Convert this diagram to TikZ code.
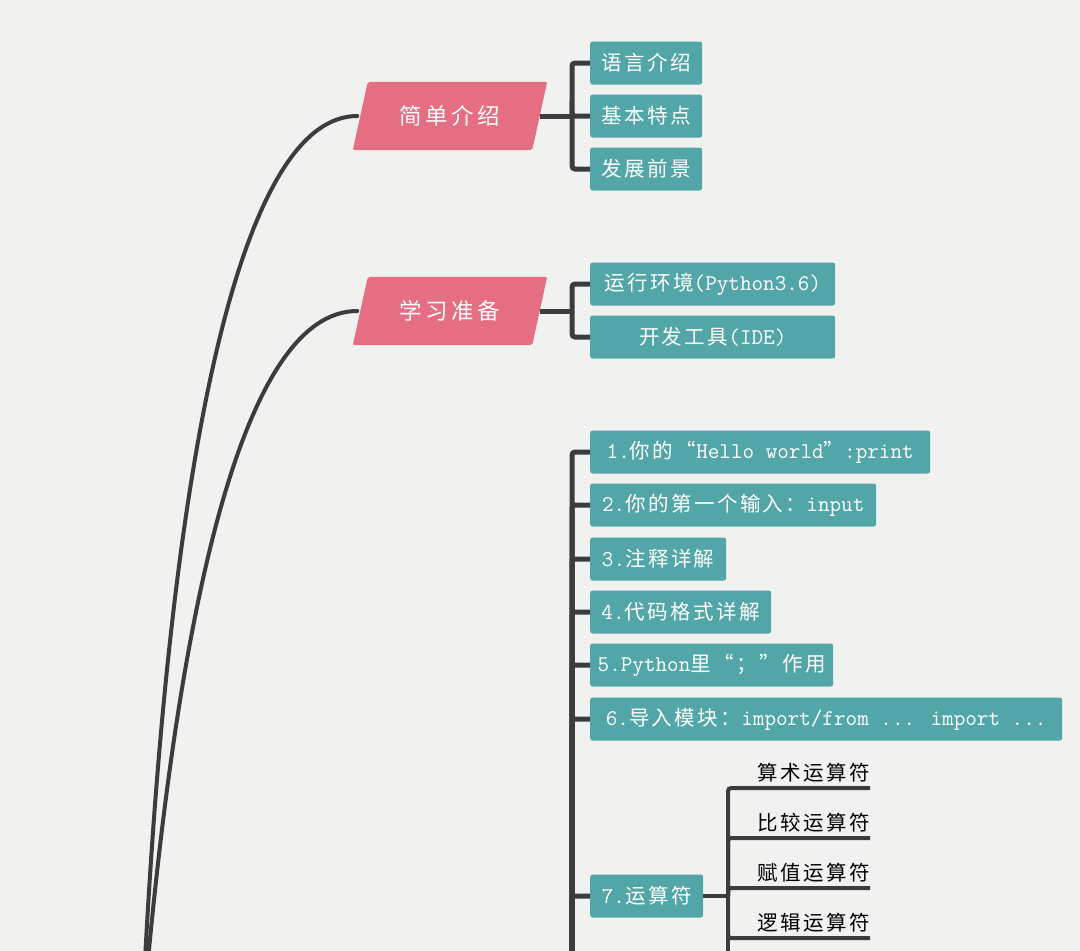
\documentclass[tikz,border=0pt]{standalone}
\usepackage{fontspec}
\setmainfont{Noto Sans CJK SC}[LetterSpace=12]
\newfontfamily\pinkfont{Noto Sans CJK SC}[LetterSpace=16]
\newcommand\mono[1]{{\ttfamily\fontsize{22.5}{24}\selectfont #1}}
\pgfdeclarelayer{background}
\pgfsetlayers{background,main}
\definecolor{bgcol}{HTML}{F1F1F0}
\definecolor{tealbox}{HTML}{53A6A8}
\definecolor{pinkbox}{HTML}{E66E83}
\definecolor{conncol}{HTML}{3C3C3C}
\begin{document}
\begin{tikzpicture}[x=1pt,y=-1pt,
  tbox/.style={fill=tealbox, rounded corners=2.5pt, text=white, inner sep=0pt,
    minimum height=43pt, anchor=west, font=\fontsize{20.5}{24}\selectfont},
  pbox/.style={rectangle, text=white, minimum width=179pt, minimum height=68pt,
    inner sep=0pt, font=\pinkfont\fontsize{22.5}{26}\selectfont},
  para/.style={fill=pinkbox, rounded corners=2pt},
  sub/.style={inner sep=0pt, minimum height=31pt, text width=138pt, align=right,
    anchor=south east, text=black, font=\fontsize{20.5}{24}\selectfont},
  conn/.style={draw=conncol, line width=5pt, rounded corners=3pt},
  subconn/.style={draw=conncol, line width=4pt, rounded corners=3pt},
  curve/.style={draw=conncol, line width=4pt, line cap=round}
]
\useasboundingbox (0,0) rectangle (1080,951);
\begin{pgfonlayer}{background}
\fill[bgcol] (0,0) rectangle (1080,951);
\end{pgfonlayer}
\clip (0,0) rectangle (1080,951);

% main topics
\node[pbox] (p1) at (450,116) {简单介绍};
\node[pbox] (p2) at (450,311) {学习准备};
\begin{pgfonlayer}{background}
\foreach \p in {p1,p2}
  \fill[para] ([xshift=7.5pt]\p.north west) -- ([xshift=7.5pt]\p.north east)
    -- ([xshift=-7.5pt]\p.south east) -- ([xshift=-7.5pt]\p.south west) -- cycle;
\end{pgfonlayer}

% group 1
\node[tbox, minimum width=112pt] (a1) at (590,63)  {语言介绍};
\node[tbox, minimum width=112pt] (a2) at (590,116) {基本特点};
\node[tbox, minimum width=112pt] (a3) at (590,169) {发展前景};

% group 2
\node[tbox, minimum width=245pt] (b1) at (590,284) {运行环境\mono{(Python3.6)}};
\node[tbox, minimum width=245pt] (b2) at (590,337) {开发工具\mono{(IDE)}};

% group 3
\node[tbox, minimum width=340pt] (g1) at (590,452) {\mono{1.}你的“\mono{Hello world}”\mono{:print}};
\node[tbox, minimum width=286pt] (g2) at (590,505) {\mono{2.}你的第一个输入：\mono{input}};
\node[tbox, minimum width=136pt] (g3) at (590,559) {\mono{3.}注释详解};
\node[tbox, minimum width=181pt] (g4) at (590,612) {\mono{4.}代码格式详解};
\node[tbox, minimum width=243pt] (g5) at (590,665) {\mono{5.Python}里“；”作用};
\node[tbox, minimum width=472pt] (g6) at (590,719) {\mono{6.}导入模块：\mono{import/from ... import ...}};
\node[tbox, minimum width=113pt] (g7) at (590,896) {\mono{7.}运算符};

% operators
\node[sub] (s1) at (870,788) {算术运算符};
\node[sub] (s2) at (870,838) {比较运算符};
\node[sub] (s3) at (870,888) {赋值运算符};
\node[sub] (s4) at (870,938) {逻辑运算符};

% junctions
\coordinate (j1) at (572,116);
\coordinate (j2) at (572,311);
\coordinate (j3) at (572,1000);
\coordinate (j7) at (728,896);
\coordinate (j7end) at (728,1000);
\coordinate (r1) at (145,960);
\coordinate (r2) at (148,960);

% curves from the root
\draw[curve] (r1) .. controls (175,400) and (250,116) .. ([xshift=-3pt]p1.west);
\draw[curve] (r2) .. controls (180,620) and (240,311) .. ([xshift=-3pt]p2.west);

% group 1 connectors
\draw[conn] (p1.east) -- (j1);
\foreach \c in {a1,a2,a3} \draw[conn] (j1) |- (\c.west);

% group 2 connectors
\draw[conn] (p2.east) -- (j2);
\foreach \c in {b1,b2} \draw[conn] (j2) |- (\c.west);

% group 3 connectors
\foreach \c in {g1,g2,g3,g4,g5,g6,g7} \draw[conn] (j3) |- (\c.west);

% operator connectors
\draw[subconn] (g7.east) -- (j7);
\foreach \c in {s1,s2,s3,s4} \draw[subconn] (j7) |- (\c.south east);
\draw[subconn] (j7) -- (j7end);
\end{tikzpicture}
\end{document}
